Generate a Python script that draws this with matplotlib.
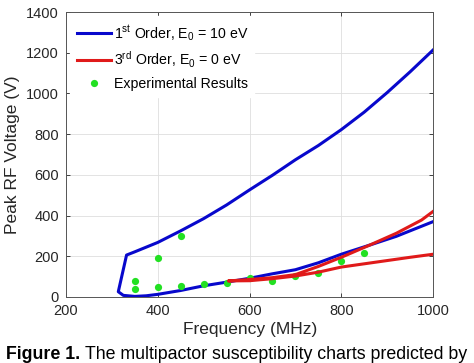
import matplotlib
matplotlib.use("Agg")
import matplotlib.pyplot as plt

plt.rcParams['font.family'] = ['Liberation Sans', 'DejaVu Sans']
plt.rcParams['mathtext.fontset'] = 'custom'
plt.rcParams['mathtext.rm'] = 'Liberation Sans'
plt.rcParams['mathtext.it'] = 'Liberation Sans:italic'
plt.rcParams['mathtext.bf'] = 'Liberation Sans:bold'

# ---- data ----
blue_x = [1000, 950, 900, 850, 800, 750, 700, 650, 600, 550, 500, 450, 400, 350, 332,
          314, 325, 350, 375, 400, 450, 500, 550, 600, 650, 700, 750, 800, 862, 920, 1000]
blue_y = [1213, 1106, 1004, 908, 822, 744, 674, 598, 526, 452, 385, 325, 268, 222, 206,
          26, 8, 3, 6, 13, 32, 55, 73, 92, 114, 134, 168, 210, 255, 298, 370]

red_x = [1000, 975, 920, 862, 800, 750, 700, 650, 600, 554,
         600, 650, 700, 750, 800, 850, 900, 950, 1000]
red_y = [420, 378, 313, 255, 195, 150, 110, 95, 86, 79,
         80, 90, 103, 122, 147, 163, 179, 195, 210]

exp_x = [350, 350, 400, 400, 450, 450, 500, 550, 600, 650, 700, 750, 800, 850]
exp_y = [80, 40, 190, 48, 300, 55, 62, 70, 95, 80, 103, 120, 175, 218]

x_ticks = [200, 400, 600, 800, 1000]
y_ticks = [0, 200, 400, 600, 800, 1000, 1200, 1400]

labels = [r"1$^{\rm st}$ Order, E$_{\rm 0}$ = 10 eV",
          r"3$^{\rm rd}$ Order, E$_{\rm 0}$ = 0 eV",
          "Experimental Results"]

caption_bold = "Figure 1."
caption_rest = "The multipactor susceptibility charts predicted by"

# ---- figure ----
W, H = 474, 363
fig = plt.figure(figsize=(W/100, H/100), dpi=100)
ax = fig.add_axes([66/W, 1-297/H, (433-66)/W, (297-12)/H])

blue, = ax.plot(blue_x, blue_y, color='#0808cc', lw=2.2, zorder=3, solid_joinstyle='round')
green, = ax.plot(exp_x, exp_y, 'o', color='#22e022', ms=5.2, zorder=4, markeredgewidth=0)
red, = ax.plot(red_x, red_y, color='#e01a1a', lw=2.2, zorder=5, solid_joinstyle='round')

ax.set_xlim(200, 1000)
ax.set_ylim(0, 1400)
ax.set_xticks(x_ticks)
ax.set_yticks(y_ticks)
ax.grid(True, color='#dedede', lw=0.6)
ax.set_axisbelow(True)
ax.tick_params(direction='in', length=3, width=0.6, colors='#262626', labelsize=10.5,
               top=True, right=True, pad=5)
for s in ax.spines.values():
    s.set_color('#555555')
    s.set_linewidth(0.7)

ax.set_xlabel("Frequency (MHz)", fontsize=12.5, color='#262626')
ax.set_ylabel("Peak RF Voltage (V)", fontsize=12.5, color='#262626')
ax.xaxis.set_label_coords(0.501, -0.089)
ax.yaxis.set_label_coords(-0.125, 0.5)

leg = ax.legend([blue, red, green], labels, loc='upper left', fontsize=10.2,
                frameon=True, facecolor='white', edgecolor='white', framealpha=1,
                fancybox=False, borderaxespad=0.3, borderpad=0.45,
                handlelength=2.46, handletextpad=0.15, labelspacing=0.5, numpoints=1)
leg.set_zorder(10)

# caption: bold part followed by regular part, sized to fit the width
fig.canvas.draw()
renderer = fig.canvas.get_renderer()
fs = 13.0
x0 = 6
while True:
    t1 = fig.text(x0/W, 1-359/H, caption_bold, fontsize=fs, fontweight='bold',
                  color='black', ha='left', va='baseline')
    bb1 = t1.get_window_extent(renderer)
    t2 = fig.text((bb1.x1 + 0.28*fs*100/72)/W, 1-359/H, caption_rest, fontsize=fs,
                  color='black', ha='left', va='baseline')
    bb2 = t2.get_window_extent(renderer)
    if bb2.x1 <= W - 1.5 or fs < 9:
        break
    t1.remove()
    t2.remove()
    fs -= 0.1

fig.savefig("out.png", dpi=100)
